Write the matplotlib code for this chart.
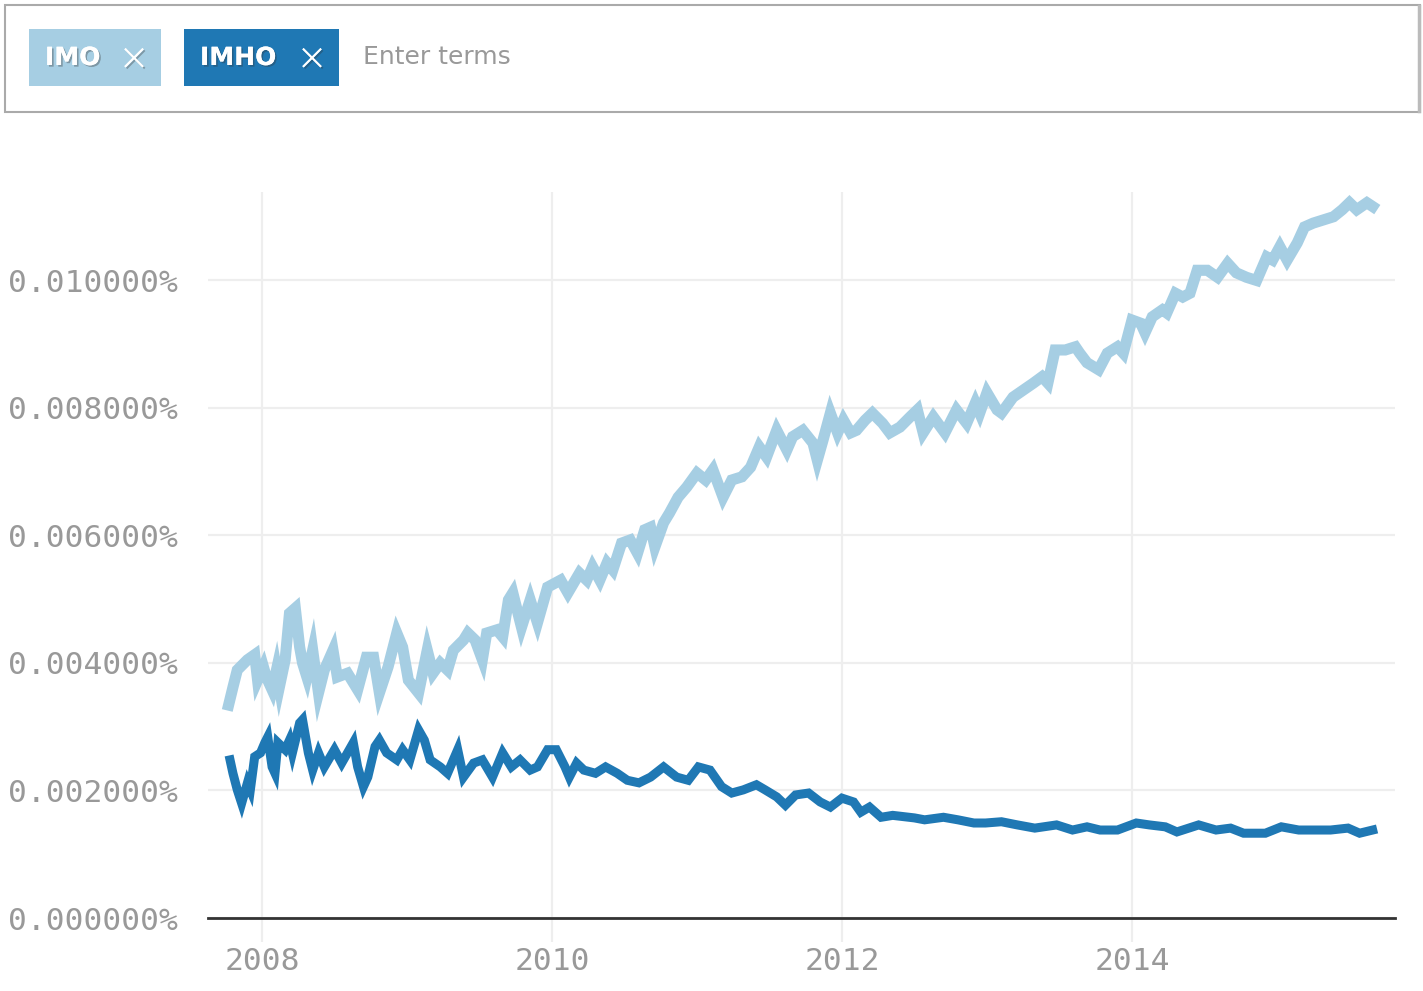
import matplotlib
matplotlib.use("Agg")
import matplotlib.pyplot as plt
import matplotlib.patheffects as pe
from matplotlib.patches import Rectangle

# values are in thousandths of a percent (3.34 -> 0.00334%)
imo_years = [2007.77, 2007.80, 2007.83, 2007.90, 2007.95, 2007.97, 2008.01, 2008.03, 2008.07, 2008.10,
             2008.12, 2008.16, 2008.19, 2008.23, 2008.26, 2008.28, 2008.31, 2008.35, 2008.39, 2008.43,
             2008.49, 2008.52, 2008.59, 2008.66, 2008.72, 2008.77, 2008.81, 2008.87, 2008.93, 2008.97,
             2009.01, 2009.08, 2009.14, 2009.18, 2009.23, 2009.28, 2009.32, 2009.39, 2009.42, 2009.47,
             2009.52, 2009.55, 2009.62, 2009.66, 2009.70, 2009.73, 2009.79, 2009.85, 2009.90, 2009.97,
             2010.06, 2010.11, 2010.19, 2010.24, 2010.28, 2010.33, 2010.38, 2010.42, 2010.48, 2010.54,
             2010.59, 2010.64, 2010.68, 2010.71, 2010.77, 2010.81, 2010.87, 2010.93, 2011.00, 2011.06,
             2011.11, 2011.18, 2011.24, 2011.31, 2011.37, 2011.43, 2011.48, 2011.55, 2011.62, 2011.66,
             2011.73, 2011.80, 2011.83, 2011.87, 2011.92, 2011.97, 2012.01, 2012.06, 2012.10, 2012.16,
             2012.21, 2012.28, 2012.33, 2012.40, 2012.47, 2012.52, 2012.56, 2012.63, 2012.71, 2012.79,
             2012.86, 2012.92, 2012.95, 2013.00, 2013.07, 2013.10, 2013.18, 2013.25, 2013.32, 2013.38,
             2013.42, 2013.47, 2013.54, 2013.61, 2013.64, 2013.69, 2013.77, 2013.83, 2013.90, 2013.94,
             2014.00, 2014.06, 2014.09, 2014.14, 2014.21, 2014.24, 2014.30, 2014.35, 2014.40, 2014.45,
             2014.52, 2014.59, 2014.66, 2014.72, 2014.79, 2014.86, 2014.93, 2014.97, 2015.02, 2015.07,
             2015.14, 2015.19, 2015.25, 2015.32, 2015.39, 2015.45, 2015.50, 2015.55, 2015.62, 2015.66]
imo_vals = [3.34, 3.62, 3.89, 4.05, 4.13, 3.73, 3.94, 3.78, 3.58, 3.89,
            3.62, 4.05, 4.78, 4.86, 4.25, 4.00, 3.78, 4.20, 3.53, 3.89,
            4.20, 3.78, 3.84, 3.58, 4.09, 4.09, 3.53, 3.94, 4.47, 4.25,
            3.73, 3.53, 4.20, 3.84, 4.00, 3.89, 4.20, 4.36, 4.47, 4.36,
            4.05, 4.47, 4.52, 4.41, 4.99, 5.10, 4.56, 4.99, 4.63, 5.19,
            5.30, 5.10, 5.41, 5.30, 5.51, 5.30, 5.57, 5.46, 5.88, 5.93,
            5.72, 6.09, 6.13, 5.82, 6.20, 6.35, 6.60, 6.76, 6.98, 6.87,
            7.03, 6.60, 6.87, 6.92, 7.07, 7.39, 7.23, 7.65, 7.34, 7.55,
            7.65, 7.45, 7.18, 7.50, 7.92, 7.61, 7.81, 7.61, 7.65, 7.81,
            7.92, 7.76, 7.61, 7.70, 7.86, 7.97, 7.61, 7.86, 7.61, 7.97,
            7.76, 8.08, 7.92, 8.24, 7.97, 7.92, 8.17, 8.28, 8.39, 8.49,
            8.39, 8.91, 8.91, 8.96, 8.86, 8.71, 8.60, 8.86, 8.96, 8.86,
            9.38, 9.33, 9.18, 9.43, 9.54, 9.49, 9.80, 9.74, 9.80, 10.16,
            10.16, 10.05, 10.27, 10.12, 10.05, 10.00, 10.37, 10.32, 10.53, 10.32,
            10.59, 10.84, 10.90, 10.95, 11.00, 11.11, 11.22, 11.11, 11.22, 11.16]

imho_years = [2007.78, 2007.80, 2007.83, 2007.86, 2007.90, 2007.92, 2007.95, 2007.99, 2008.02, 2008.04,
              2008.07, 2008.09, 2008.11, 2008.16, 2008.19, 2008.21, 2008.26, 2008.28, 2008.32, 2008.35,
              2008.39, 2008.43, 2008.50, 2008.55, 2008.63, 2008.66, 2008.70, 2008.73, 2008.78, 2008.81,
              2008.86, 2008.93, 2008.97, 2009.02, 2009.08, 2009.12, 2009.16, 2009.23, 2009.28, 2009.35,
              2009.39, 2009.46, 2009.52, 2009.59, 2009.66, 2009.72, 2009.78, 2009.85, 2009.90, 2009.97,
              2010.03, 2010.09, 2010.12, 2010.17, 2010.22, 2010.30, 2010.37, 2010.45, 2010.52, 2010.60,
              2010.68, 2010.77, 2010.86, 2010.94, 2011.01, 2011.09, 2011.17, 2011.24, 2011.32, 2011.41,
              2011.47, 2011.55, 2011.61, 2011.68, 2011.77, 2011.85, 2011.92, 2012.00, 2012.08, 2012.13,
              2012.19, 2012.27, 2012.35, 2012.50, 2012.57, 2012.70, 2012.80, 2012.91, 2012.99, 2013.10,
              2013.21, 2013.33, 2013.48, 2013.59, 2013.69, 2013.78, 2013.90, 2014.03, 2014.12, 2014.23,
              2014.31, 2014.46, 2014.58, 2014.68, 2014.77, 2014.92, 2015.03, 2015.15, 2015.26, 2015.37,
              2015.49, 2015.57, 2015.66]
imho_vals = [2.48, 2.27, 2.01, 1.80, 2.12, 2.01, 2.53, 2.59, 2.75, 2.84,
             2.37, 2.27, 2.75, 2.64, 2.79, 2.59, 3.06, 3.11, 2.59, 2.32,
             2.59, 2.37, 2.64, 2.43, 2.75, 2.37, 2.06, 2.21, 2.69, 2.79,
             2.59, 2.48, 2.64, 2.48, 2.95, 2.79, 2.48, 2.37, 2.27, 2.64,
             2.21, 2.43, 2.48, 2.21, 2.59, 2.37, 2.48, 2.32, 2.37, 2.64,
             2.64, 2.37, 2.21, 2.43, 2.32, 2.27, 2.37, 2.27, 2.16, 2.12,
             2.21, 2.37, 2.21, 2.16, 2.37, 2.32, 2.06, 1.96, 2.01, 2.09,
             2.01, 1.90, 1.77, 1.93, 1.96, 1.82, 1.74, 1.88, 1.82, 1.66,
             1.74, 1.58, 1.61, 1.57, 1.54, 1.58, 1.54, 1.49, 1.49, 1.51,
             1.46, 1.41, 1.46, 1.38, 1.43, 1.38, 1.38, 1.49, 1.46, 1.43,
             1.35, 1.46, 1.38, 1.41, 1.33, 1.33, 1.43, 1.38, 1.38, 1.38,
             1.41, 1.33, 1.38]

terms = ["IMO", "IMHO"]
colors = ["#a6cee3", "#1f78b4"]
y_ticks = [0, 0.002, 0.004, 0.006, 0.008, 0.010]
x_ticks = [2008, 2010, 2012, 2014]

W, H = 1423, 991
fig = plt.figure(figsize=(W / 100, H / 100), dpi=100)

def fx(px):
    return px / W

def fy(py):
    return 1 - py / H

# search box at top
fig.patches.append(Rectangle((fx(5), fy(112)), fx(1415), 107 / H, transform=fig.transFigure,
                             facecolor="white", edgecolor="#aaaaaa", linewidth=1.5))
fig.add_artist(plt.Line2D([fx(1419), fx(1419)], [fy(6), fy(111)], transform=fig.transFigure,
                          color="#bbbbbb", linewidth=2.5))

# (box left, box width, text left, cross centre)
tag_boxes = [(29, 132, 45, 134), (184, 155, 200, 312)]
shadow = [pe.withSimplePatchShadow(offset=(1.2, -1.2), shadow_rgbFace="#333333", alpha=0.35), pe.Normal()]
for (x0, w, tx, cx), term, c in zip(tag_boxes, terms, colors):
    fig.patches.append(Rectangle((fx(x0), fy(86)), w / W, 57 / H, transform=fig.transFigure,
                                 facecolor=c, edgecolor="none"))
    fig.text(fx(tx), fy(58), term, color="white", fontsize=18, fontweight="bold",
             va="center", ha="left", path_effects=shadow)
    fig.text(fx(cx), fy(59), "\u00d7", color="white", fontsize=27, fontweight="light",
             va="center", ha="center", path_effects=shadow)
fig.text(fx(363), fy(57), "Enter terms", color="#999999", fontsize=18, va="center", ha="left")

ax = fig.add_axes([fx(208), fy(918), (1395 - 208) / W, (918 - 192) / H])
ax.plot(imo_years, [v / 1000 for v in imo_vals], color=colors[0], linewidth=8,
        solid_joinstyle="miter", zorder=3)
ax.plot(imho_years, [v / 1000 for v in imho_vals], color=colors[1], linewidth=6.5,
        solid_joinstyle="miter", zorder=4)

ax.set_xlim(2007.628, 2015.814)
ax.set_ylim(0, 0.011388)
ax.set_yticks(y_ticks)
ax.set_yticklabels([f"{v:.6f}%" for v in y_ticks])
ax.set_xticks(x_ticks)
ax.set_xticklabels([str(y) for y in x_ticks])
ax.grid(True, color="#eeeeee", linewidth=1.6)
ax.set_axisbelow(True)
for s in ["top", "right", "left"]:
    ax.spines[s].set_visible(False)
ax.spines["bottom"].set_color("#333333")
ax.spines["bottom"].set_linewidth(2)
ax.spines["bottom"].set_zorder(5)
ax.tick_params(axis="y", length=0, pad=22, labelsize=22.5, labelcolor="#999999")
ax.tick_params(axis="x", length=17, width=1.6, color="#eeeeee", pad=4, labelsize=22.5,
               labelcolor="#999999")
for lab in ax.get_xticklabels() + ax.get_yticklabels():
    lab.set_family("DejaVu Sans Mono")

fig.savefig("out.png", dpi=100)
